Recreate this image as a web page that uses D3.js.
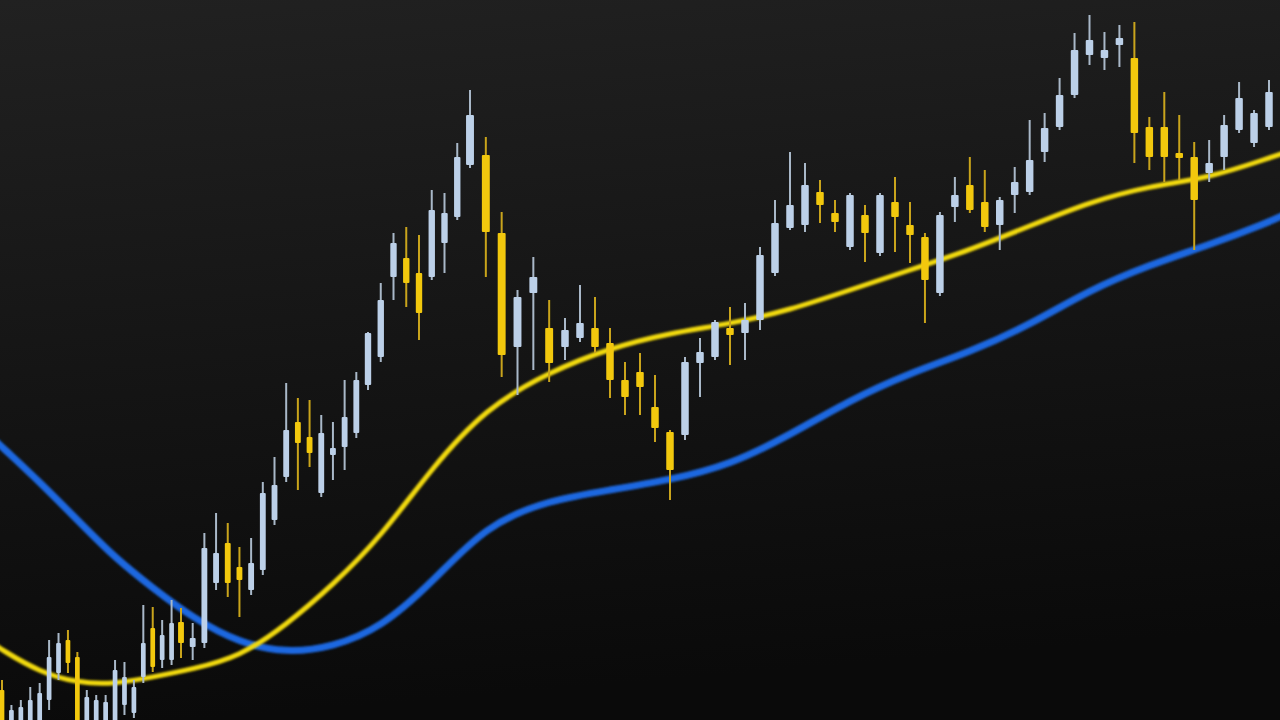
<!DOCTYPE html>
<html>
<head>
<meta charset="utf-8">
<script src="https://cdn.jsdelivr.net/npm/d3@7"></script>
<style>
html,body{margin:0;padding:0;background:#111;}
svg{display:block;}
</style>
</head>
<body>
<svg id="chart" width="1280" height="720"></svg>
<script>
// ---- Data (price units) ----
const open  = [30,-5,-5,-2,-2,20,47,80,63,-5,-5,-5,-5,15,7,43,92,60,60,98,73,77,137,177,153,130,150,200,243,298,283,227,265,273,287,335,363,443,462,447,443,477,503,555,565,487,373,427,392,373,382,392,377,340,348,313,288,285,357,363,392,387,400,447,492,495,528,507,473,505,467,518,495,483,427,513,535,518,495,525,528,568,593,625,665,662,675,662,593,593,567,563,547,563,590,577,593];
const high  = [40,15,20,33,37,80,87,90,68,30,25,25,60,58,40,115,113,100,120,112,97,187,207,197,173,182,238,263,337,322,320,305,298,340,348,388,437,487,493,485,530,527,577,630,583,508,430,463,420,402,435,423,392,358,367,345,290,363,382,400,413,417,473,520,568,557,540,520,527,515,527,543,518,487,508,543,563,550,523,553,600,607,642,687,705,688,695,698,603,628,605,578,580,605,638,610,640];
const low   = [-15,-10,-10,-8,-8,10,40,47,-15,-10,-10,-10,-10,5,2,37,48,52,55,62,60,72,130,123,103,125,145,195,238,230,253,223,240,250,282,330,358,420,413,380,440,447,500,552,443,343,325,350,338,360,378,367,322,305,305,278,220,280,323,360,355,360,390,444,490,488,497,488,470,458,464,468,457,397,424,498,507,488,470,507,525,558,590,622,655,650,653,557,550,538,540,470,538,550,587,573,590];
const close = [-10,10,13,20,27,63,77,57,-10,23,20,18,50,43,33,77,53,85,97,77,82,172,167,137,140,157,227,235,290,277,267,287,272,303,340,387,420,477,437,407,510,507,563,605,488,365,423,443,357,390,397,373,340,323,333,292,250,358,368,398,385,400,465,497,515,535,515,498,525,487,525,503,485,440,505,525,510,493,520,538,560,592,625,670,680,670,682,587,563,563,562,520,557,595,622,607,628];

// moving averages sampled at these candle indices
const maIndex  = [-1,0,4,8,12,16,20,24,28,32,36,40,44,48,52,56,60,64,68,72,76,80,84,88,92,96,97];
const maFast   = [77,70,48,37,36,43,51,63,95,135,183,252,312,348,372,387,396,410,430,450,470,494,518,534,542,562,567];
const maSlow   = [282,273,238,200,162,132,102,77,67,73,92,137,195,220,230,240,255,285,320,347,368,395,430,455,475,498,505];

const W = 1280, H = 720;
const svg = d3.select("#chart");

// background
const defs = svg.append("defs");
const bg = defs.append("linearGradient").attr("id","bg").attr("x1",0).attr("y1",0).attr("x2",0.15).attr("y2",1);
bg.append("stop").attr("offset","0%").attr("stop-color","#212121");
bg.append("stop").attr("offset","55%").attr("stop-color","#141414");
bg.append("stop").attr("offset","100%").attr("stop-color","#0a0a0a");
const glow = defs.append("filter").attr("id","soft").attr("x","-50%").attr("y","-50%").attr("width","200%").attr("height","200%");
glow.append("feGaussianBlur").attr("stdDeviation",0.7);
const lineGlow = defs.append("filter").attr("id","lglow").attr("x","-10%").attr("y","-10%").attr("width","120%").attr("height","120%");
lineGlow.append("feGaussianBlur").attr("stdDeviation",0.9);

svg.append("rect").attr("width",W).attr("height",H).attr("fill","url(#bg)");

const n = open.length;
// slight perspective: candle spacing widens to the right
const x = d3.scaleLinear()
  .domain([0, 19, 35, 43, 49, 72, 96])
  .range([2, 181, 368, 470, 565, 910, 1269]);
const y = d3.scaleLinear().domain([0, 720]).range([H, 0]);

const candles = d3.range(n).map(i => ({i, o:open[i], h:high[i], l:low[i], c:close[i]}));

// moving average lines
const line = d3.line()
  .x((d,k) => x(maIndex[k]))
  .y(d => y(d))
  .curve(d3.curveBasis);

svg.append("path").datum(maSlow)
  .attr("d", line).attr("fill","none")
  .attr("stroke","#1f68e0").attr("stroke-width",7).attr("stroke-linecap","round")
  .attr("filter","url(#lglow)");
svg.append("path").datum(maFast)
  .attr("d", line).attr("fill","none")
  .attr("stroke","#f2da10").attr("stroke-width",5).attr("stroke-linecap","round")
  .attr("filter","url(#lglow)");

// candles
const upBody = "#bcd0e8", upWick = "#a9b8c8";
const dnBody = "#f2c80f", dnWick = "#c9a41a";
const g = svg.append("g").attr("filter","url(#soft)");
const cg = g.selectAll("g.c").data(candles).join("g").attr("class","c");
const bw = i => (x(i+1)-x(i))*0.5;

cg.append("line")
  .attr("x1", d => x(d.i)).attr("x2", d => x(d.i))
  .attr("y1", d => y(d.h)).attr("y2", d => y(d.l))
  .attr("stroke", d => d.c >= d.o ? upWick : dnWick)
  .attr("stroke-width", 2);

cg.append("rect")
  .attr("x", d => x(d.i) - bw(d.i)/2)
  .attr("width", d => bw(d.i))
  .attr("y", d => y(Math.max(d.o,d.c)))
  .attr("height", d => Math.max(1.5, Math.abs(y(d.o)-y(d.c))))
  .attr("rx", 1)
  .attr("fill", d => d.c >= d.o ? upBody : dnBody);
</script>
</body>
</html>
